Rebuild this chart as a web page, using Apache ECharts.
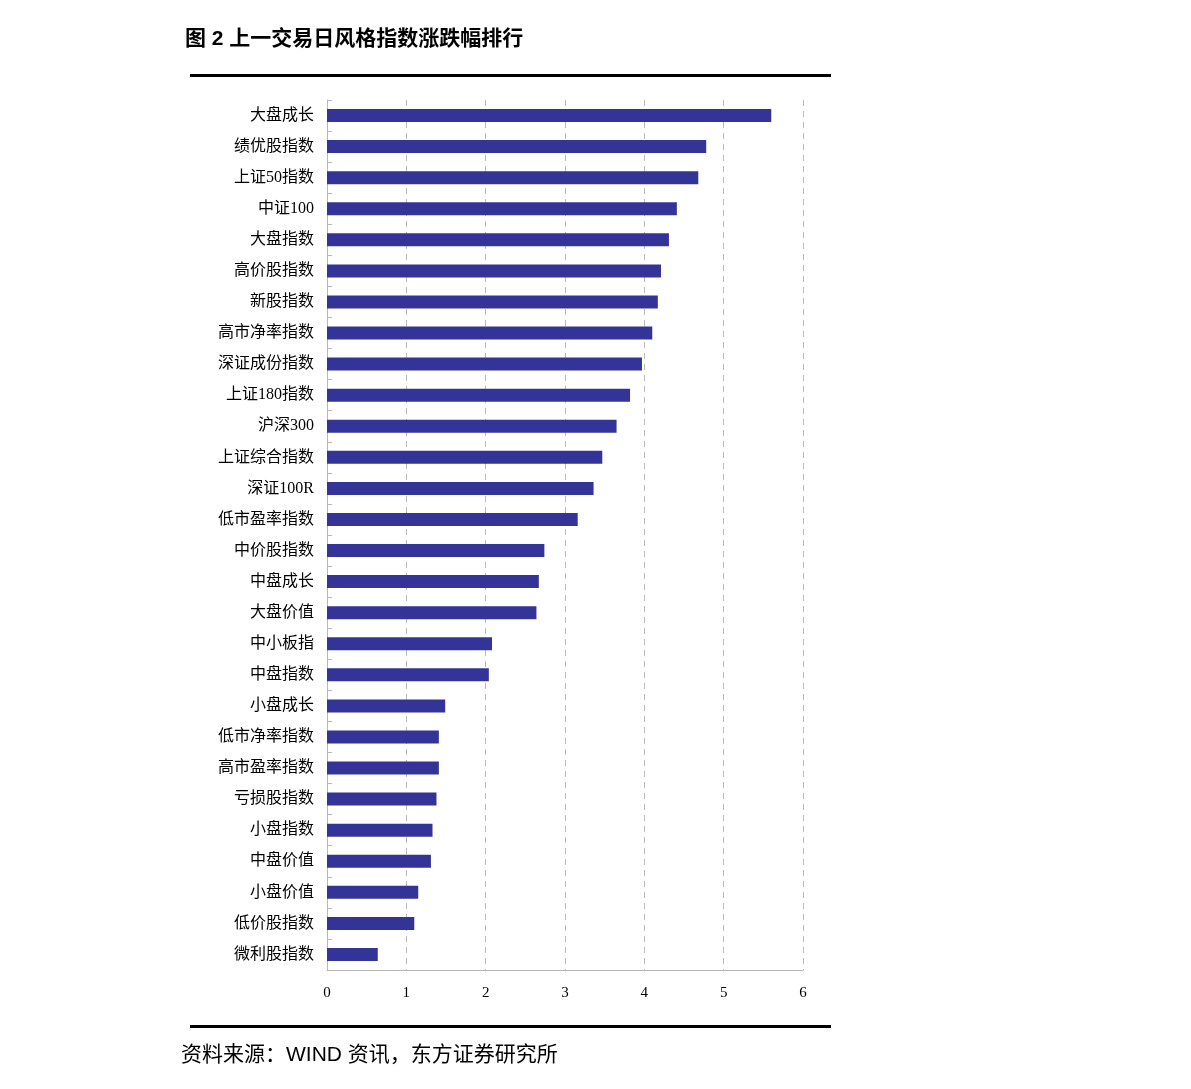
<!DOCTYPE html>
<html>
<head>
<meta charset="utf-8">
<script src="https://cdn.jsdelivr.net/npm/echarts@6/dist/echarts.min.js"></script>
<style>
  html, body { margin: 0; padding: 0; background: #fff; }
  #chart { width: 1191px; height: 1089px; }
</style>
</head>
<body>
<div id="chart"></div>
<script>
// categories top to bottom
const categories = [
  '大盘成长', '绩优股指数', '上证50指数', '中证100', '大盘指数', '高价股指数',
  '新股指数', '高市净率指数', '深证成份指数', '上证180指数', '沪深300', '上证综合指数',
  '深证100R', '低市盈率指数', '中价股指数', '中盘成长', '大盘价值', '中小板指',
  '中盘指数', '小盘成长', '低市净率指数', '高市盈率指数', '亏损股指数', '小盘指数',
  '中盘价值', '小盘价值', '低价股指数', '微利股指数'
]
const values = [
  5.60, 4.78, 4.68, 4.41, 4.31, 4.21,
  4.17, 4.10, 3.97, 3.82, 3.65, 3.47,
  3.36, 3.16, 2.74, 2.67, 2.64, 2.08,
  2.04, 1.49, 1.41, 1.41, 1.38, 1.33,
  1.31, 1.15, 1.10, 0.64
]
const xTicks = [0, 1, 2, 3, 4, 5, 6]

const serif = '"Liberation Serif", "Noto Sans CJK SC", serif'
const sans = '"Liberation Sans", "Noto Sans CJK SC", sans-serif'

const myChart = echarts.init(document.getElementById('chart'))
myChart.setOption({
  animation: false,
  backgroundColor: '#fff',
  title: {
    text: '图 2 上一交易日风格指数涨跌幅排行',
    left: 180,
    top: 24,
    textStyle: { fontFamily: sans, fontSize: 21, fontWeight: 'bold', color: '#000' }
  },
  grid: { left: 327, right: 388, top: 100, height: 870, containLabel: false },
  xAxis: {
    type: 'value',
    min: xTicks[0],
    max: xTicks[xTicks.length - 1],
    interval: 1,
    axisLine: { show: true, lineStyle: { color: '#b8b8b8', width: 1 } },
    axisTick: { show: false },
    axisLabel: { margin: 16, fontFamily: serif, fontSize: 15, color: '#000' },
    splitLine: { show: true, lineStyle: { color: '#bbbbbb', type: [6, 5], width: 1 } }
  },
  yAxis: {
    type: 'category',
    inverse: true,
    data: categories,
    axisLine: { show: true, lineStyle: { color: '#b8b8b8', width: 1 } },
    axisTick: { show: true, inside: true, length: 5, lineStyle: { color: '#b8b8b8' } },
    axisLabel: { margin: 13, fontFamily: serif, fontSize: 16, color: '#000' },
    splitLine: { show: false }
  },
  series: [{
    type: 'bar',
    data: values,
    barWidth: 13,
    itemStyle: { color: '#343498' }
  }],
  graphic: [
    { type: 'rect', shape: { x: 190, y: 74, width: 641, height: 3 }, style: { fill: '#000' } },
    { type: 'rect', shape: { x: 190, y: 1025, width: 641, height: 3 }, style: { fill: '#000' } },
    {
      type: 'text', left: 181, top: 1045,
      style: { text: '资料来源：WIND 资讯，东方证券研究所', font: '21px ' + sans, fill: '#000' }
    }
  ]
})
</script>
</body>
</html>
